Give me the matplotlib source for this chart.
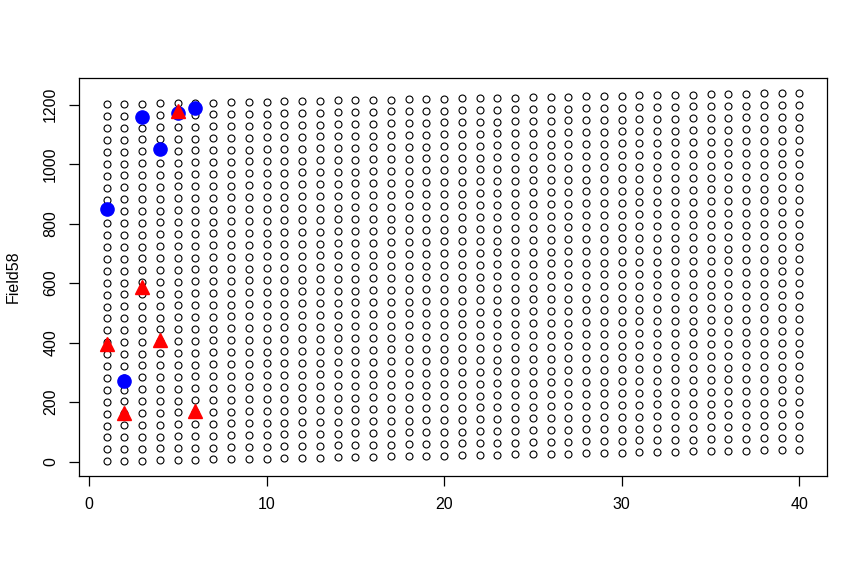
import numpy as np
import matplotlib
matplotlib.use("Agg")
import matplotlib.pyplot as plt

plt.rcParams["font.family"] = ["Liberation Sans", "DejaVu Sans"]

# background grid: record index (Field58) against its column position
n_cols = 40
field58 = np.arange(1, 1241)
column = (field58 - 1) % n_cols + 1

# highlighted points
blue_x = [1, 2, 3, 4, 5, 6]
blue_y = [848, 270, 1160, 1050, 1172, 1190]
red_x = [1, 2, 3, 4, 5, 6]
red_y = [395, 162, 588, 410, 1179, 169]

x_ticks = [0, 10, 20, 30, 40]
y_ticks = [0, 200, 400, 600, 800, 1000, 1200]

fig = plt.figure(figsize=(8.67, 5.73), dpi=100)
ax = fig.add_axes([79 / 867, 1 - 476 / 573, (827 - 79) / 867, (476 - 78) / 573])

ax.plot(column, field58, "o", mfc="none", mec="black", ms=5, mew=0.8)
ax.plot(blue_x, blue_y, "o", color="blue", ms=9.5, mec="blue")
ax.plot(red_x, red_y, "^", color="red", ms=10, mec="red")

ax.set_xlim(-0.56, 41.56)
ax.set_ylim(-48.6, 1289.6)
ax.set_xticks(x_ticks)
ax.set_yticks(y_ticks)
ax.set_yticklabels([str(v) for v in y_ticks], rotation=90, va="center")
ax.tick_params(direction="out", length=7, width=0.9, labelsize=11.5, pad=8)
ax.tick_params(axis="x", pad=8)
ax.set_ylabel("Field58", fontsize=11.5, labelpad=16)
for s in ax.spines.values():
    s.set_linewidth(0.9)

fig.savefig("out.png", dpi=100)
